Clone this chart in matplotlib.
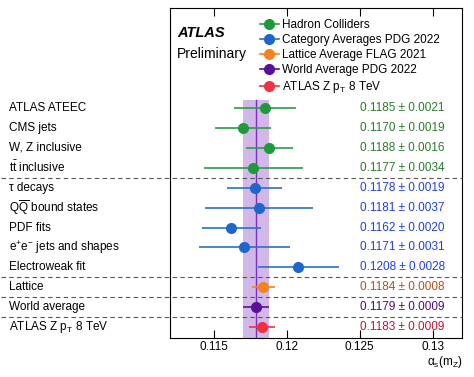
import matplotlib
matplotlib.use('Agg')
import matplotlib.pyplot as plt
from matplotlib.lines import Line2D
from matplotlib.transforms import blended_transform_factory

plt.rcParams['font.family'] = ['Liberation Sans', 'DejaVu Sans']
plt.rcParams['mathtext.fontset'] = 'custom'
plt.rcParams['mathtext.rm'] = 'Liberation Sans'
plt.rcParams['mathtext.it'] = 'Liberation Sans:italic'
plt.rcParams['mathtext.bf'] = 'Liberation Sans:bold'

# data, top row first
labels = ['ATLAS ATEEC', 'CMS jets', 'W, Z inclusive', r'$\mathrm{t\bar{t}}$ inclusive',
          'τ decays', r'$\mathrm{Q\overline{Q}}$ bound states', 'PDF fits',
          r'e$^{+}$e$^{-}$ jets and shapes', 'Electroweak fit',
          'Lattice', 'World average', r'ATLAS Z p$_{\mathrm{T}}$ 8 TeV']
values = [0.1185, 0.1170, 0.1188, 0.1177,
          0.1178, 0.1181, 0.1162, 0.1171, 0.1208,
          0.1184, 0.1179, 0.1183]
errors = [0.0021, 0.0019, 0.0016, 0.0034,
          0.0019, 0.0037, 0.0020, 0.0031, 0.0028,
          0.0008, 0.0009, 0.0009]
groups = [0, 0, 0, 0, 1, 1, 1, 1, 1, 2, 3, 4]
group_names = ['Hadron Colliders', 'Category Averages PDG 2022', 'Lattice Average FLAG 2021',
               'World Average PDG 2022', 'ATLAS Z p$_{\\mathrm{T}}$ 8 TeV']
marker_colors = ['#1e9a3c', '#1f66cc', '#f5821f', '#5a0f9a', '#f0323c']
line_colors = ['#2a9a4a', '#2a70c8', '#f5821f', '#5a0f9a', '#f0323c']
text_colors = ['#2a7a2a', '#1f3fe0', '#b0501a', '#4a0a80', '#c8102e']
world_avg = 0.1179
world_err = 0.0009
separators = [3.5, 8.5, 9.5, 10.5]  # after these row indices (from top)

fig = plt.figure(figsize=(4.74, 3.77), dpi=100)
ax = fig.add_axes([170 / 474, 1 - 338 / 377, 292 / 474, 330 / 377])

n = len(labels)
ypos = [n - 1 - i for i in range(n)]

ax.axvspan(world_avg - world_err, world_avg + world_err, ymin=0, ymax=(11.4 + 0.55) / 16.58,
           color='#c7a6e3', alpha=0.8, lw=0, zorder=1)
ax.plot([world_avg, world_avg], [-0.55, 11.4], color='#7a2fc0', lw=1.0, zorder=2)

label_tr = blended_transform_factory(fig.transFigure, ax.transData)
for i in range(n):
    g = groups[i]
    ax.errorbar(values[i], ypos[i], xerr=errors[i], fmt='o', ms=7, color=marker_colors[g],
                ecolor=line_colors[g], elinewidth=1.2, capsize=0, zorder=3)
    ax.text(0.1250, ypos[i], '%.4f ± %.4f' % (values[i], errors[i]), color=text_colors[g],
            fontsize=8.5, va='center', ha='left', zorder=4)
    fig.text(9 / 474, ypos[i], labels[i], fontsize=8.5, va='center', ha='left', transform=label_tr)

sep_tr = blended_transform_factory(ax.transAxes, ax.transData)
for s in separators:
    y = n - 1 - s
    ax.plot([-0.58, 1.0], [y, y], transform=sep_tr,
            ls=(0, (4, 3)), color='#555555', lw=0.8, clip_on=False, zorder=2)

ax.set_xlim(0.1120, 0.1320)
ax.set_ylim(-0.55, 16.03)
ax.set_xticks([0.115, 0.12, 0.125, 0.13])
ax.set_xticklabels(['0.115', '0.12', '0.125', '0.13'])
ax.set_yticks([])
ax.tick_params(axis='x', direction='in', top=True, length=6, width=0.8, labelsize=8.5, pad=2)
for sp in ax.spines.values():
    sp.set_linewidth(0.8)

fig.text(463 / 474, 1 - 354 / 377, r'$\mathrm{\alpha_{s}(m_{Z})}$', ha='right', va='top', fontsize=8.5)

ax.text(0.025, 0.925, 'ATLAS', transform=ax.transAxes, fontsize=10.5, fontweight='bold',
        fontstyle='italic', va='center')
ax.text(0.025, 0.86, 'Preliminary', transform=ax.transAxes, fontsize=10, va='center')

handles = [Line2D([0], [0], color=line_colors[k], marker='o', ms=7, mfc=marker_colors[k],
                  mec=marker_colors[k], lw=1.2) for k in range(5)]
ax.legend(handles, group_names, loc='upper left', bbox_to_anchor=(0.275, 0.995), frameon=False,
          fontsize=8.5, handlelength=1.6, handletextpad=0.3, labelspacing=0.25, borderpad=0.3)

fig.savefig('out.png', dpi=100)
